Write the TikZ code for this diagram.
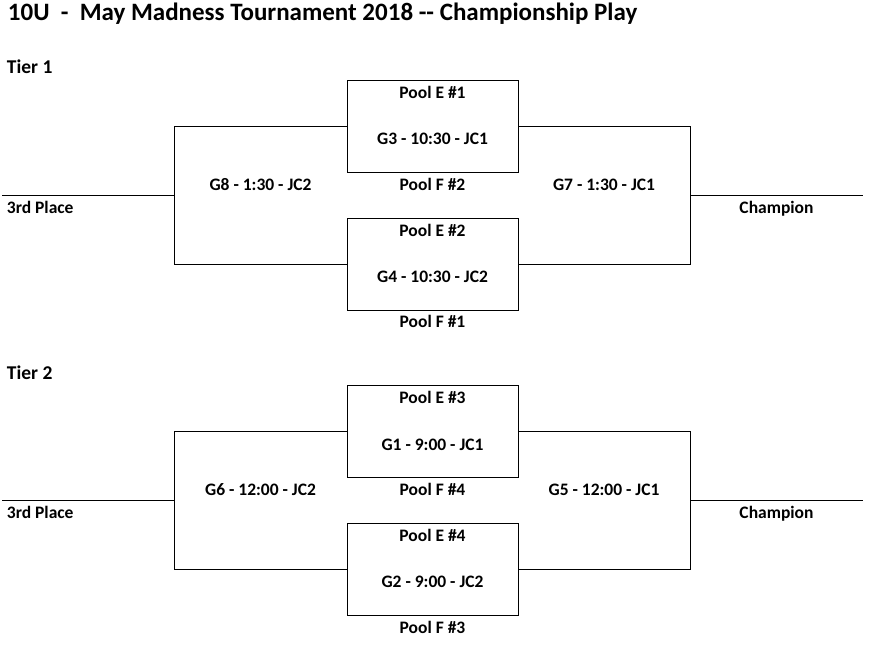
\documentclass[tikz,border=0pt]{standalone}
\usepackage{fontspec}
\setmainfont{Carlito}
\begin{document}
\begin{tikzpicture}[x=1pt, y=-1pt, line width=0.9pt,
    gamebox/.style={draw, minimum width=171pt, minimum height=92pt, inner sep=0pt},
    lbl/.style={font=\bfseries\fontsize{17.5}{20}\selectfont, anchor=base, inner sep=0pt}]
    \useasboundingbox (0,0) rectangle (871,647);

    % Title
    \node[lbl, anchor=base west, font=\bfseries\fontsize{25}{29}\selectfont] (title) at (7.5,20.7)
        {10U\ \ -\ \ May Madness Tournament 2018 -{}- Championship Play};

    % The two tiers
    \foreach \t/\dy/\gtop/\gbot/\gl/\gr/\pa/\pb/\pc/\pd in {%
        1/0/G3 - 10:30 - JC1/G4 - 10:30 - JC2/G8 - 1:30 - JC2/G7 - 1:30 - JC1/1/2/2/1,%
        2/305/G1 - 9:00 - JC1/G2 - 9:00 - JC2/G6 - 12:00 - JC2/G5 - 12:00 - JC1/3/4/4/3} {
    \begin{scope}[yshift=-\dy pt]
        \node[lbl, anchor=base west, font=\bfseries\fontsize{19.5}{23}\selectfont] (tier\t) at (6.5,74) {Tier \t};

        % First round games
        \node[gamebox] (top\t) at (432.5,126.3) {};
        \node[gamebox] (bot\t) at (432.5,264.2) {};
        \node[lbl] (ea\t) at (432.5,98.3) {Pool E \#\pa};
        \node[lbl] (ga\t) at (432.5,145) {\gtop};
        \node[lbl] (fa\t) at (432.5,190.7) {Pool F \#\pb};
        \node[lbl] (eb\t) at (432.5,236.7) {Pool E \#\pc};
        \node[lbl] (gb\t) at (432.5,282.3) {\gbot};
        \node[lbl] (fb\t) at (432.5,328) {Pool F \#\pd};

        % Final games
        \node[lbl] (gl\t) at (260.5,190.7) {\gl};
        \node[lbl] (gr\t) at (604,190.7) {\gr};
        \node[lbl, anchor=base west] (third\t) at (6.5,213.3) {3rd Place};
        \node[lbl] (champ\t) at (776.5,213.3) {Champion};

        % Brackets
        \coordinate (lb\t) at (174.3,195.3);
        \coordinate (rb\t) at (690.3,195.3);
        \coordinate (le\t) at (2,195.3);
        \coordinate (re\t) at (862.7,195.3);
        \draw (top\t.west) -| (lb\t) |- (bot\t.west);
        \draw (top\t.east) -| (rb\t) |- (bot\t.east);
        \draw (le\t) -- (lb\t);
        \draw (rb\t) -- (re\t);
    \end{scope}
    }
\end{tikzpicture}
\end{document}
